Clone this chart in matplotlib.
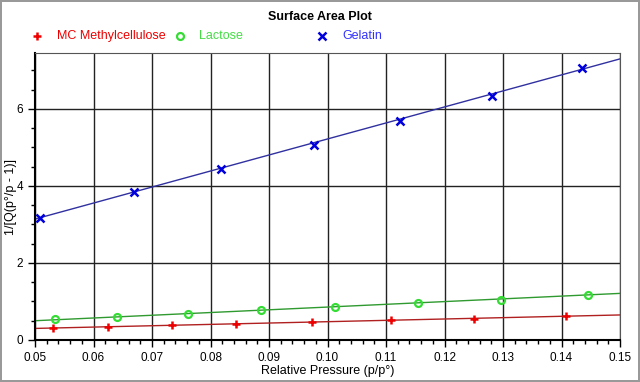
import numpy as np
import matplotlib
matplotlib.use('Agg')
import matplotlib.pyplot as plt

plt.rcParams['font.family'] = ['Liberation Sans', 'DejaVu Sans']

# data
mc_x = [0.0531, 0.0624, 0.0734, 0.0843, 0.0973, 0.1109, 0.1250, 0.1408]
mc_y = [0.30, 0.34, 0.39, 0.42, 0.46, 0.51, 0.54, 0.61]
lac_x = [0.0534, 0.0640, 0.0761, 0.0886, 0.1013, 0.1154, 0.1297, 0.1446]
lac_y = [0.54, 0.60, 0.68, 0.78, 0.86, 0.95, 1.05, 1.17]
gel_x = [0.0509, 0.0669, 0.0818, 0.0977, 0.1124, 0.1281, 0.1435]
gel_y = [3.17, 3.84, 4.44, 5.06, 5.69, 6.34, 7.06]

# fitted lines (end values at x = 0.05 and 0.15)
fit_x = [0.05, 0.15]
mc_fit = [0.30, 0.65]
lac_fit = [0.50, 1.21]
gel_fit = [3.14, 7.30]

fig = plt.figure(figsize=(6.4, 3.82), dpi=100, linewidth=1.5, edgecolor='#999999')
ax = fig.add_axes([0.0547, 0.110, 0.9141, 0.751])

ax.plot(fit_x, mc_fit, color='#b02020', lw=1)
ax.plot(fit_x, lac_fit, color='#2f9a2f', lw=1)
ax.plot(fit_x, gel_fit, color='#3030a0', lw=1)
ax.plot(mc_x, mc_y, ls='none', marker='+', color='#ee0000', ms=6, mew=1.8)
ax.plot(lac_x, lac_y, ls='none', marker='o', mfc='none', mec='#33dd33', ms=5, mew=1.6)
ax.plot(gel_x, gel_y, ls='none', marker='x', color='#0000dd', ms=5.5, mew=1.8)

ax.set_xlim(0.05, 0.15)
ax.set_ylim(0, 7.45)
ax.set_xticks(np.arange(0.05, 0.1501, 0.01))
ax.set_xticklabels(['%.2f' % v for v in np.arange(0.05, 0.1501, 0.01)])
ax.set_xticks(np.arange(0.05, 0.1501, 0.002), minor=True)
ax.set_yticks([0, 2, 4, 6])
ax.set_yticks(np.arange(0, 7.45, 0.5), minor=True)
ax.tick_params(which='major', length=5, width=1, labelsize=8.5, color='black')
ax.tick_params(which='minor', length=3, width=1, color='black')
ax.grid(True, which='major', color='#222222', lw=1)
for s in ['top', 'right']:
    ax.spines[s].set_color('#555555')
for s in ['left', 'bottom']:
    ax.spines[s].set_linewidth(1.5)

ax.set_xlabel('Relative Pressure (p/p°)', fontsize=9, labelpad=1)
ax.set_ylabel('1/[Q(p°/p - 1)]', fontsize=9)
ax.yaxis.set_label_coords(-0.031, 0.5)

fig.text(0.5, 0.955, 'Surface Area Plot', ha='center', va='center', fontsize=9, fontweight='bold')

# legend row
leg = [('MC Methylcellulose', '+', '#ee0000', '#ee0000'),
       ('Lactose', 'o', '#33dd33', '#44dd44'),
       ('Gelatin', 'x', '#0000dd', '#3333ff')]
for i, (name, m, mc, tc) in enumerate(leg):
    x0 = (37 + i * 142.5) / 640
    if m == 'o':
        fig.lines.append(plt.Line2D([x0], [0.907], transform=fig.transFigure, marker=m,
                                    mfc='none', mec=mc, ms=5, mew=1.6, ls='none'))
    else:
        fig.lines.append(plt.Line2D([x0], [0.907], transform=fig.transFigure, marker=m,
                                    color=mc, ms=5.5, mew=1.8, ls='none'))
    fig.text(x0 + 20 / 640, 0.907, name, color=tc, fontsize=9, va='center', ha='left')

fig.savefig('out.png', dpi=100, edgecolor=fig.get_edgecolor())
